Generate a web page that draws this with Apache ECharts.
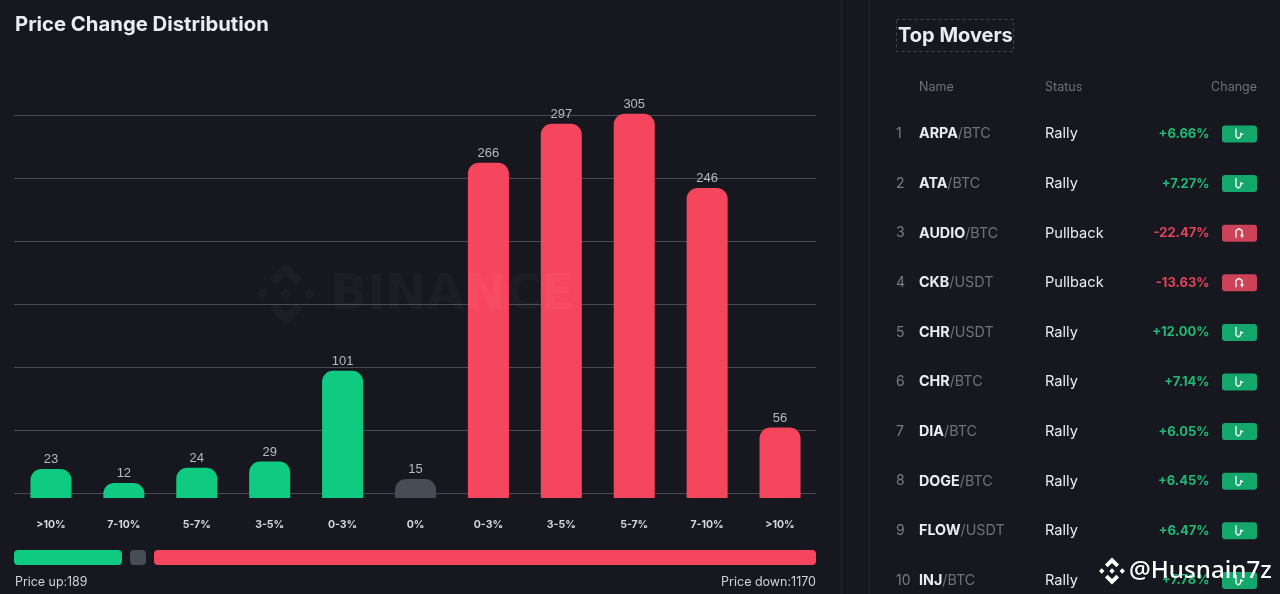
<!DOCTYPE html>
<html><head><meta charset="utf-8">
<style>html,body{margin:0;padding:0;background:#17181f}#c{width:1280px;height:594px}</style>
<script src="https://cdn.jsdelivr.net/npm/echarts@6/dist/echarts.min.js"></script>
</head><body><div id="c"></div>
<script>
const categories = ['>10%','7-10%','5-7%','3-5%','0-3%','0%','0-3%','3-5%','5-7%','7-10%','>10%'];
const counts = [23,12,24,29,101,15,266,297,305,246,56];
const barKinds = ['up','up','up','up','up','flat','down','down','down','down','down'];
const priceUp = 189;
const priceFlat = 15;
const priceDown = 1170;
const moverPairs = ['ARPA','ATA','AUDIO','CKB','CHR','CHR','DIA','DOGE','FLOW','INJ'];
const moverQuotes = ['BTC','BTC','BTC','USDT','USDT','BTC','BTC','BTC','USDT','BTC'];
const moverStatus = ['Rally','Rally','Pullback','Pullback','Rally','Rally','Rally','Rally','Rally','Rally'];
const moverChange = ['+6.66%','+7.27%','-22.47%','-13.63%','+12.00%','+7.14%','+6.05%','+6.45%','+6.47%','+7.78%'];

const FONT = 'Inter, Roboto, sans-serif';
const UP='#0ecb81', DOWN='#f6465d', FLAT='#474d57', BG='#17181f';
const colorOf = {up:UP, down:DOWN, flat:FLAT};
const chart = echarts.init(document.getElementById('c'), null, {renderer:'canvas'});

const txt = (x,y,text,o={}) => ({type:'text',x,y,z:o.z||5,silent:true,style:{text,fill:o.fill||'#eaecef',font:`${o.w||400} ${o.s||14}px ${o.f||FONT}`,textAlign:o.a||'left',textVerticalAlign:'middle'}});
const g = [];
// Binance-style logo: centre and side diamonds, upper and lower chevrons
function logo(cx,cy,R,fill,z){
  const d=(x,y,r)=>[[x,y-r],[x+r,y],[x,y+r],[x-r,y]];
  const add=pts=>g.push({type:'polygon',z,silent:true,shape:{points:pts.map(p=>[cx+p[0]*R,cy+p[1]*R])},style:{fill}});
  add(d(0,0,.2)); add(d(-.76,0,.2)); add(d(.76,0,.2));
  add([[0,-1],[.52,-.48],[.32,-.28],[0,-.6],[-.32,-.28],[-.52,-.48]]);
  add([[0,1],[.52,.48],[.32,.28],[0,.6],[-.32,.28],[-.52,.48]]);
}
g.push({type:'line',shape:{x1:841.5,y1:0,x2:841.5,y2:594},style:{stroke:'#26272e',lineWidth:1},silent:true});
g.push({type:'line',shape:{x1:869.5,y1:0,x2:869.5,y2:594},style:{stroke:'#26272e',lineWidth:1},silent:true});
g.push(txt(15,25,'Price Change Distribution',{s:20.3,w:700}));
g.push(txt(15,582,'Price up:'+priceUp,{s:12.4,fill:'#cfd2d6'}));
g.push(txt(816,582,'Price down:'+priceDown,{s:12.5,fill:'#cfd2d6',a:'right'}));
// faint watermark
g.push(txt(330,296,'BINANCE',{s:49,w:700,fill:'rgba(255,255,255,0.028)',z:4,f:'"DejaVu Sans", sans-serif'}));
logo(286,294,31,'rgba(255,255,255,0.028)',4);
// Top Movers
g.push({type:'rect',shape:{x:896.5,y:19.5,width:117,height:32},style:{fill:'none',stroke:'#44464d',lineDash:[3,3]},silent:true});
g.push(txt(898,36,'Top Movers',{s:20,w:700}));
g.push(txt(919,87.5,'Name',{s:12.5,fill:'#6f7278'}));
g.push(txt(1045,87.5,'Status',{s:12.5,fill:'#6f7278'}));
g.push(txt(1257,87.5,'Change',{s:12.5,fill:'#6f7278',a:'right'}));
moverPairs.forEach((p,i)=>{
  const y = 133.5 + i*49.6, up = moverStatus[i]==='Rally';
  g.push(txt(896,y+0.5,String(i+1),{s:14,fill:'#7a7d83'}));
  g.push({type:'text',x:919,y:y+0.5,z:5,silent:true,style:{text:`{a|${p}}{b|/${moverQuotes[i]}}`,textVerticalAlign:'middle',rich:{a:{font:`700 14.3px ${FONT}`,fill:'#eaecef'},b:{font:`400 14.3px ${FONT}`,fill:'#6f7278'}}}});
  g.push(txt(1045,y+0.5,moverStatus[i],{s:14.6}));
  g.push(txt(1209.5,y+0.5,moverChange[i],{s:13,w:700,fill:up?'#1fb874':'#e0435a',a:'right'}));
  g.push({type:'rect',z:5,silent:true,shape:{x:1222,y:y-8,width:35,height:17,r:3},style:{fill:up?'#14a76c':'#cc4258'}});
  const pts = up
    ? [[1236,y-5],[1236,y+3],[1238,y+5],[1240,y+4],[1241,y+1]]
    : [[1236,y+5],[1236,y-2],[1239,y-4],[1242,y-2],[1242,y+3]];
  const head = up
    ? [[1240,y-1],[1244,y+0.5],[1240,y+2.5]]
    : [[1240,y+2],[1244,y+2],[1242,y+5.5]];
  g.push({type:'polyline',z:6,silent:true,shape:{points:pts},style:{fill:'none',stroke:'#e8f5ef',lineWidth:1.4}});
  g.push({type:'polygon',z:6,silent:true,shape:{points:head},style:{fill:'#e8f5ef'}});
});
// credit
g.push(txt(1129,571,'@Husnain7z',{s:24.2,w:500,fill:'#ffffff',z:20,f:'"Noto Sans", sans-serif'}));
logo(1112,571,13.5,'#ffffff',20);

// split bar: each segment on its own little axis
const segs = [{v:priceUp,l:14,r:122,c:UP},{v:priceFlat,l:130,r:146,c:FLAT},{v:priceDown,l:154,r:816,c:DOWN}];
const GW=1280;
const grids=[
 {left:14,right:GW-816,top:115,height:378},
 {left:14.5,right:GW-816.5,top:498-1.26*320,height:1.26*320}
];
const xAxes=[
 {gridIndex:0,type:'category',data:categories,show:false},
 {gridIndex:1,type:'category',data:categories,axisLine:{show:false},axisTick:{show:false},
  axisLabel:{interval:0,margin:21,color:'#d5d7da',fontSize:10.5,fontWeight:700,fontFamily:FONT}}
];
const yAxes=[
 {gridIndex:0,type:'value',min:0,max:300,interval:50,axisLabel:{show:false},axisLine:{show:false},axisTick:{show:false},splitLine:{lineStyle:{color:'#4a4c53',width:1}}},
 {gridIndex:1,type:'value',min:0,max:320,show:false,splitLine:{show:false}}
];
const series=[
 {type:'bar',xAxisIndex:1,yAxisIndex:1,barWidth:41,z:3,
  data:counts.map((v,i)=>({value:v,itemStyle:{color:colorOf[barKinds[i]]}})),
  itemStyle:{borderRadius:[11,11,0,0]},
  label:{show:true,position:'top',distance:3,color:'#b7b9bd',fontSize:13,fontFamily:'"Liberation Sans", sans-serif'}}
];
segs.forEach((s,i)=>{
  const k=i+2;
  grids.push({left:s.l,right:GW-s.r,top:550,height:15});
  xAxes.push({gridIndex:k,type:'value',min:0,max:s.v,show:false,splitLine:{show:false}});
  yAxes.push({gridIndex:k,type:'category',data:['share'],show:false});
  series.push({type:'bar',xAxisIndex:k,yAxisIndex:k,barWidth:15,data:[s.v],itemStyle:{color:s.c,borderRadius:4},silent:true});
});
chart.setOption({animation:false,backgroundColor:BG,grid:grids,xAxis:xAxes,yAxis:yAxes,series,graphic:g});
</script></body></html>
